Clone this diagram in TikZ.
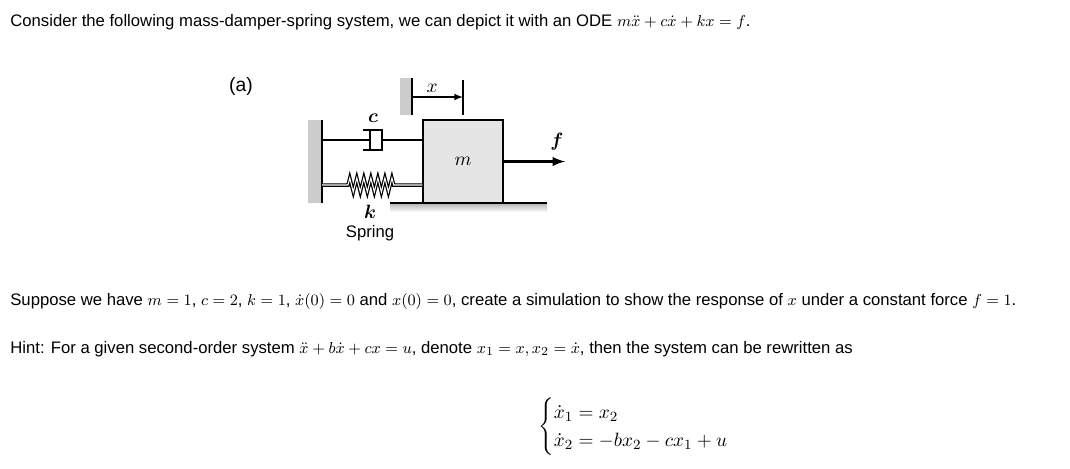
\documentclass[tikz,border=0pt]{standalone}
\usepackage{amsmath}
\usepackage{fontspec}
\setmainfont{Liberation Sans}
\usetikzlibrary{positioning,calc,decorations.pathmorphing}
\tikzset{
  txt/.style={anchor=west,inner sep=0pt,font=\fontsize{9.5}{11}\selectfont},
  lbl/.style={inner sep=0pt,font=\fontsize{11}{13}\selectfont},
  wall/.style={fill=gray!40,draw=none},
  mech/.style={line width=0.7pt}
}
\begin{document}
\begin{tikzpicture}[x=0.02cm,y=-0.02cm]
\useasboundingbox (0,0) rectangle (1070,468);
%text
\node[txt] (intro) at (10,22) {Consider the following mass-damper-spring system, we can depict it with an ODE $m\ddot{x}+c\dot{x}+kx=f$.};
\node[lbl] (lbla) at (241,86) {(a)};
%walls
\fill[wall] (308,120) rectangle (322,203);
\draw[mech] (322,120) -- (322,203);
\fill[wall] (400,78) rectangle (412,115);
\draw[mech] (412,78) -- (412,115);
%ground
\shade[top color=gray!60,bottom color=white] (390,203) rectangle (547,212);
\draw[mech] (390,203) -- (547,203);
%mass
\node[draw,mech,fill=gray!20,minimum width=80*0.02cm,minimum height=83*0.02cm,inner sep=0pt,lbl] (mass) at (463,161.5) {$m$};
%damper
\coordinate (dl) at (322,140);
\draw[mech] (dl) -- (370,140);
\draw[mech] (370,131) -- (370,149);
\draw[mech] (363,130) -- (382,130) -- (382,150) -- (363,150);
\draw[mech] (382,140) -- (mass.west |- 0,140);
\node[lbl] (clbl) at (373,118) {$\boldsymbol{c}$};
%spring
\coordinate (sl) at (322,185);
\draw[mech,double=white] (sl) -- (348,185)
  decorate[decoration={zigzag,segment length=4,amplitude=4}] {-- (397,185)}
  -- (mass.west |- 0,185);
\node[lbl] (klbl) at (370,212) {$\boldsymbol{k}$};
\node[txt,anchor=center] (spr) at (370,233) {Spring};
%displacement
\coordinate (xe) at (463,97);
\draw[mech] (463,80) -- (463,115);
\draw[mech,-latex] (412,97) -- (xe);
\node[lbl] (xlbl) at (432,88) {$x$};
%force
\coordinate (fe) at (565,161.5);
\draw[line width=1.4pt,-latex] (mass.east) -- (fe);
\node[lbl] (flbl) at (557,142) {$\boldsymbol{f}$};
%problem
\node[txt] (given) at (10,301) {Suppose we have $m=1$, $c=2$, $k=1$, $\dot{x}(0)=0$ and $x(0)=0$, create a simulation to show the response of $x$ under a constant force $f=1$.};
\node[txt] (hint) at (10,349) {Hint: For a given second-order system $\ddot{x}+b\dot{x}+cx=u$, denote $x_1=x, x_2=\dot{x}$, then the system can be rewritten as};
\node[txt,font=\fontsize{11}{13}\selectfont] (sys) at (538,427) {$\begin{cases}\dot{x}_1=x_2\\ \dot{x}_2=-bx_2-cx_1+u\end{cases}$};
\end{tikzpicture}
\end{document}
